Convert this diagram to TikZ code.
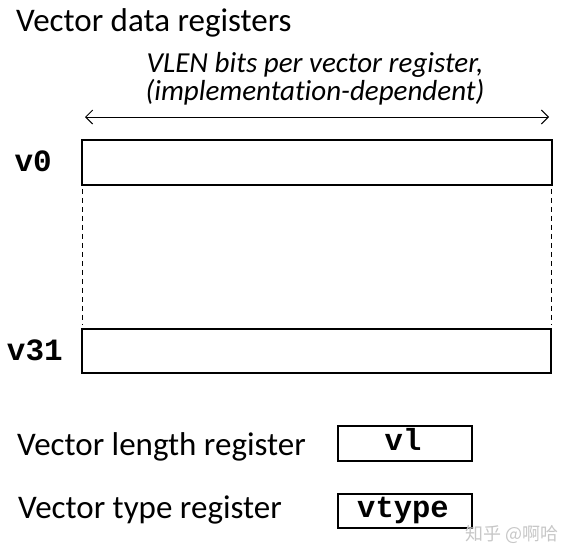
\documentclass[tikz,border=0pt]{standalone}
\usepackage{fontspec}
\setmainfont[Ligatures={NoCommon}]{Carlito}
\setmonofont{Liberation Mono}
\newfontfamily\cjk{Noto Sans CJK SC}
\usetikzlibrary{arrows.meta}
\begin{document}
\begin{tikzpicture}[x=1pt,y=-1pt,
  reg/.style={draw,line width=1.8pt,inner sep=0pt},
  lbl/.style={font=\fontsize{33}{35}\selectfont,inner sep=0pt},
  mono/.style={font=\fontsize{31}{33}\selectfont\ttfamily\bfseries,inner sep=0pt},
  monos/.style={font=\fontsize{30.5}{32}\selectfont\ttfamily\bfseries,inner sep=0pt},
  ital/.style={font=\fontsize{29}{31}\selectfont\itshape,inner sep=0pt},
  dsh/.style={line width=0.8pt,dash pattern=on 5pt off 4pt}]
\useasboundingbox (0,0) rectangle (573,546);
\node[lbl,anchor=base west] (title) at (16,31) {Vector data registers};
\node[ital,anchor=base] (t1) at (315,72) {VLEN bits per vector register,};
\node[ital,anchor=base] (t2) at (315,100) {(implementation-dependent)};
\coordinate (al) at (85,117);
\coordinate (ar) at (549,117);
\draw[line width=1pt,{Straight Barb[length=7pt,width=14pt]}-{Straight Barb[length=7pt,width=14pt]}] (al) -- (ar);
\node[reg,minimum width=470pt,minimum height=45pt] (v0) at (317,162.5) {};
\node[mono,anchor=base east] (lv0) at (52,171) {v0};
\node[reg,minimum width=469pt,minimum height=44pt] (v31) at (316.5,351) {};
\node[mono,anchor=base east] (lv31) at (63,360) {v31};
\draw[dsh] ([xshift=1pt,yshift=-3pt]v0.south west) -- ([xshift=1pt,yshift=4pt]v31.north west);
\draw[dsh] ([xshift=-2pt,yshift=-3pt]v0.south east) -- ([xshift=-1pt,yshift=4pt]v31.north east);
\node[lbl,anchor=base west] (vlt) at (17,455) {Vector length register};
\node[reg,minimum width=134pt,minimum height=35pt] (vl) at (405,443.5) {};
\node[monos,anchor=base] (vltx) at (403,450) {vl};
\node[lbl,anchor=base west] (vtt) at (18,518) {Vector type register};
\node[reg,minimum width=134pt,minimum height=34pt] (vt) at (405,511) {};
\node[monos,anchor=base] (vttx) at (403,517) {vtype};
\node[font=\fontsize{18}{20}\selectfont\cjk,text=black!22,anchor=west,inner sep=0pt] (wm) at (465,534) {知乎 @啊哈};
\end{tikzpicture}
\end{document}
